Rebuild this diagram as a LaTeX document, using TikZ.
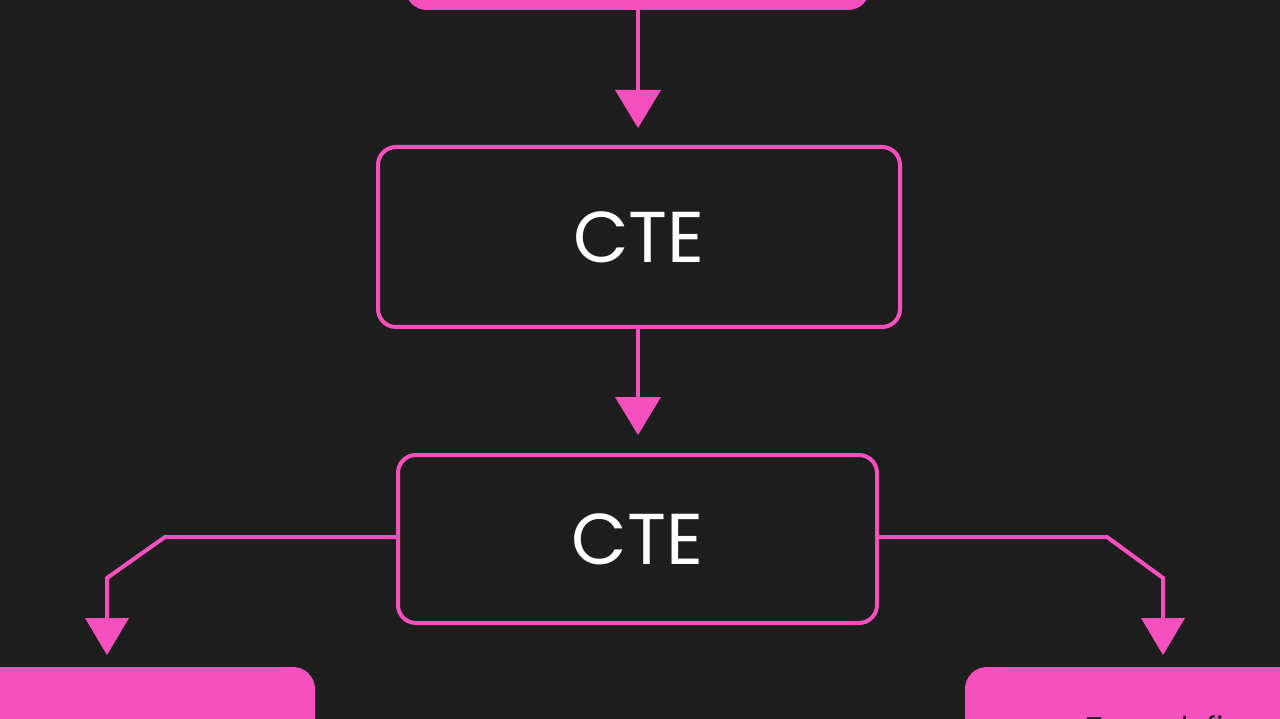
\documentclass[tikz,border=0pt]{standalone}
\usepackage{fontspec}
\setmainfont{Poppins}
\definecolor{bg}{HTML}{1E1E1F}
\definecolor{pk}{HTML}{F64FBE}
\begin{document}
\begin{tikzpicture}[x=1pt,y=-1pt,
  outbox/.style={draw=pk,line width=4pt,rounded corners=18pt,fill=bg},
  fillbox/.style={fill=pk,rounded corners=22pt},
  conn/.style={draw=pk,line width=4pt},
  tip/.style={fill=pk}]
\useasboundingbox (0,0) rectangle (1280,719);
\fill[bg] (0,0) rectangle (1280,719);
\begin{scope}
\clip (0,0) rectangle (1280,719);
\fill[fillbox] (405,-40) rectangle (870,10);
\fill[fillbox] (-40,667) rectangle (315,780);
\fill[fillbox] (965,667) rectangle (1320,780);
\node[anchor=base west,font=\fontsize{30}{30}\selectfont,text=bg,inner sep=0] (rt) at (1086,738) {To undefive};
\end{scope}
\node[outbox,minimum width=522pt,minimum height=180pt,font=\fontsize{72}{72}\selectfont,text=white] (b1) at (639,237) {CTE};
\node[outbox,minimum width=479pt,minimum height=168pt,font=\fontsize{72}{72}\selectfont,text=white] (b2) at (637.5,539) {CTE};
\coordinate (t1) at (638,128);
\coordinate (t2) at (638,435);
\draw[conn] (638,10) -- (638,95);
\fill[tip] (615,90) -- (661,90) -- (t1) -- cycle;
\draw[conn] (b1.south -| t2) -- (638,400);
\fill[tip] (615,397) -- (661,397) -- (t2) -- cycle;
\draw[conn] (b2.west |- 0,537) -- (165,537) -- (107,578) -- (107,622);
\fill[tip] (85,618) -- (129,618) -- (107,655) -- cycle;
\draw[conn] (b2.east |- 0,537) -- (1107,537) -- (1163,578) -- (1163,622);
\fill[tip] (1141,618) -- (1185,618) -- (1163,655) -- cycle;
\end{tikzpicture}
\end{document}
